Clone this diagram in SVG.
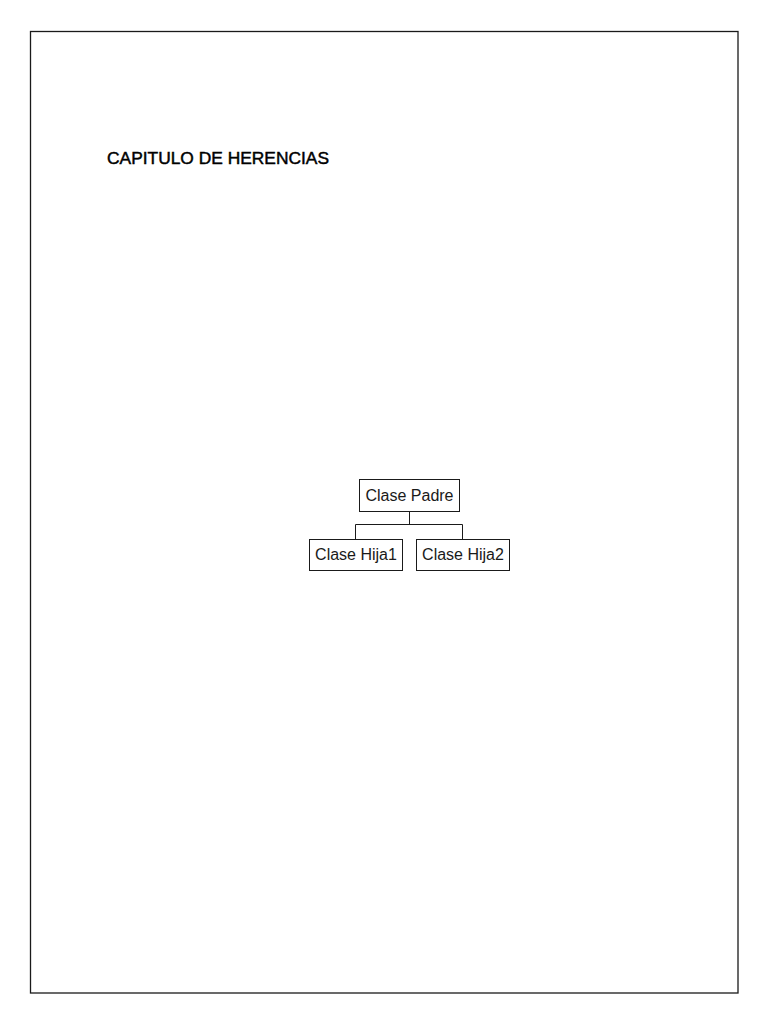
<svg xmlns="http://www.w3.org/2000/svg" width="768" height="1024" viewBox="0 0 768 1024">
<style>
.box{fill:#fff;stroke:#1a1a1a;stroke-width:1}
.lbl{font-family:"Liberation Sans",Arial,sans-serif;font-size:16px;fill:#1a1a1a;text-anchor:middle}
.conn{fill:none;stroke:#1a1a1a;stroke-width:1}
</style>
<rect x="0" y="0" width="768" height="1024" fill="#fff"/>
<rect x="30.5" y="31.5" width="707.5" height="961.5" fill="none" stroke="#1a1a1a" stroke-width="1.3"/>
<text x="107" y="164" font-family="'Liberation Sans',Arial,sans-serif" font-size="17" fill="#000" stroke="#000" stroke-width="0.45" textLength="222" lengthAdjust="spacingAndGlyphs">CAPITULO DE HERENCIAS</text>
<g id="connectors">
<path class="conn" d="M409.5 511 V524.5 M355.5 539 V524.5 H462.5 V539"/>
</g>
<g id="padre">
<rect class="box" x="359.5" y="479.5" width="100" height="32"/>
<text class="lbl" x="409.5" y="501">Clase Padre</text>
</g>
<g id="hija1">
<rect class="box" x="309.5" y="539.5" width="93" height="31"/>
<text class="lbl" x="356" y="560">Clase Hija1</text>
</g>
<g id="hija2">
<rect class="box" x="416.5" y="539.5" width="93" height="31"/>
<text class="lbl" x="463" y="560">Clase Hija2</text>
</g>
</svg>
